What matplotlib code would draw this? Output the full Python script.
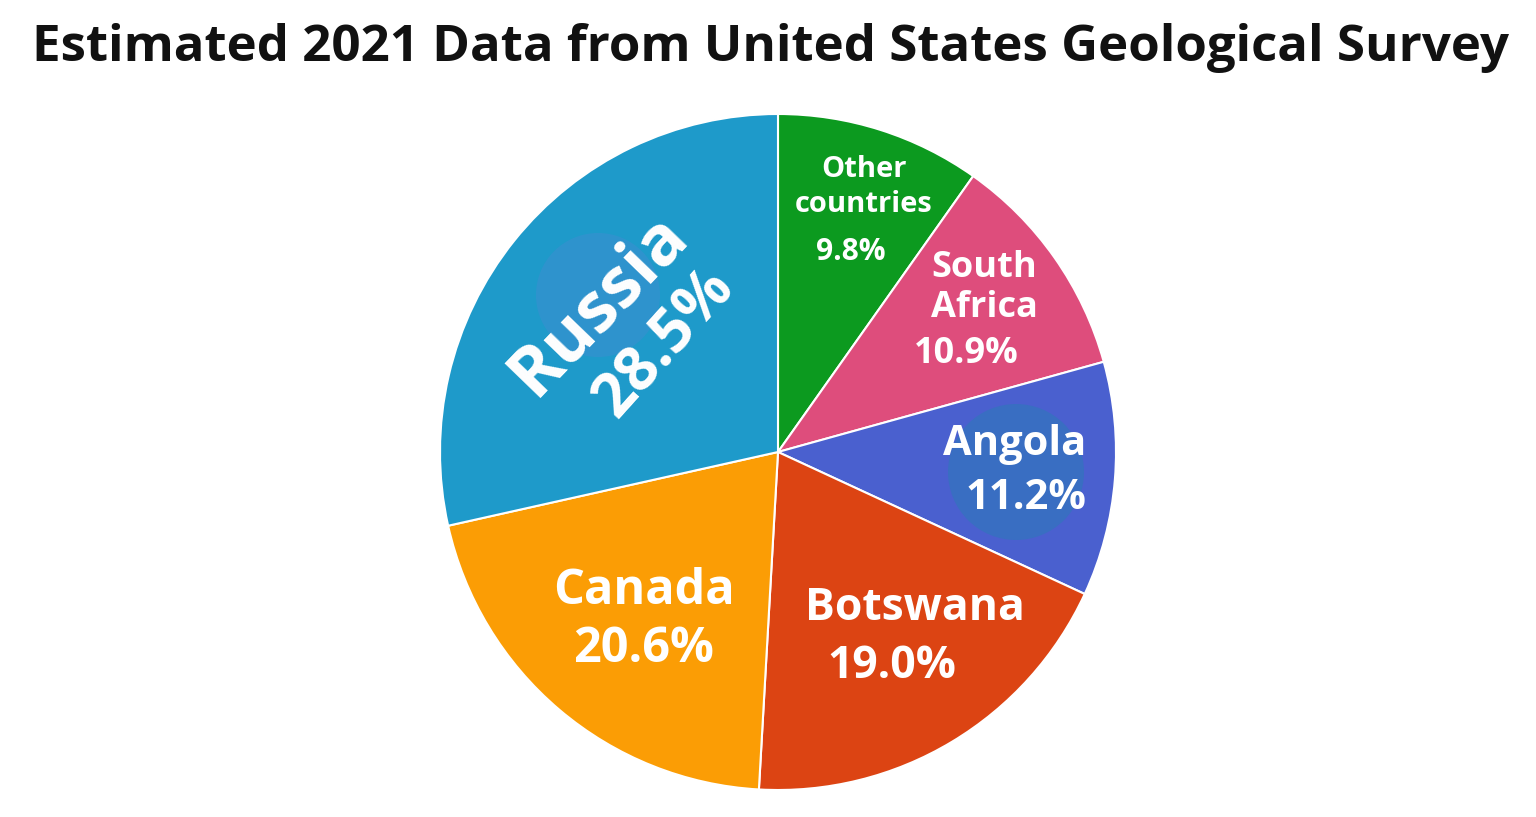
import matplotlib
matplotlib.use("Agg")
import matplotlib.pyplot as plt
from matplotlib.patches import Circle

countries = ["Other\ncountries", "South\nAfrica", "Angola", "Botswana", "Canada", "Russia"]
shares = [9.8, 10.9, 11.2, 19.0, 20.6, 28.5]
colors = ["#0c9a1f", "#de4d7c", "#4a60cf", "#dc4413", "#fb9d05", "#1e9aca"]

W, H = 1536, 817
fig = plt.figure(figsize=(W / 100, H / 100), dpi=100)
fig.patch.set_facecolor("white")
ax = fig.add_axes([0, 0, 1, 1])

cx, cy, r = 778, H - 452, 338
ax.pie(shares, colors=colors, startangle=90, counterclock=False,
       center=(cx, cy), radius=r, frame=True,
       wedgeprops=dict(edgecolor="white", linewidth=1.5))
ax.set_xlim(0, W)
ax.set_ylim(0, H)
ax.set_aspect("equal")
ax.axis("off")

# subtle blobs seen in the reference
ax.add_patch(Circle((598, H - 295), 62, color="#3a8fd0", alpha=0.6, lw=0, zorder=2))
ax.add_patch(Circle((1016, H - 472), 68, color="#2b7ab8", alpha=0.55, lw=0, zorder=2))

font = "Open Sans"
fig.text(770 / W, 1 - 48 / H, "Estimated 2021 Data from United States Geological Survey",
         ha="center", va="center", fontsize=36.7, fontweight="bold", family=font, color="#111111")

def lab(x, y, s, size, rot=0, ls=1.15):
    ax.text(x, H - y, s, ha="center", va="center", fontsize=size, fontweight="bold",
            family=font, color="white", rotation=rot, zorder=5, linespacing=ls,
            rotation_mode="anchor")

lab(864, 187, "Other\ncountries", 21, ls=1.25)
lab(851, 252, f"{shares[0]}%", 21.5)
lab(984, 288, "South\nAfrica", 26, ls=1.12)
lab(966, 354, f"{shares[1]}%", 26)
lab(1015, 444, countries[2], 30)
lab(1026, 498, f"{shares[2]}%", 30)
lab(915, 609, countries[3], 32)
lab(892, 666, f"{shares[3]}%", 32)
lab(644, 591, countries[4], 35)
lab(644, 649, f"{shares[4]}%", 35)
lab(599, 305, countries[5], 50, rot=46)
lab(665, 343, f"{shares[5]}%", 44, rot=48)

fig.savefig("out.png", dpi=100, facecolor="white")
